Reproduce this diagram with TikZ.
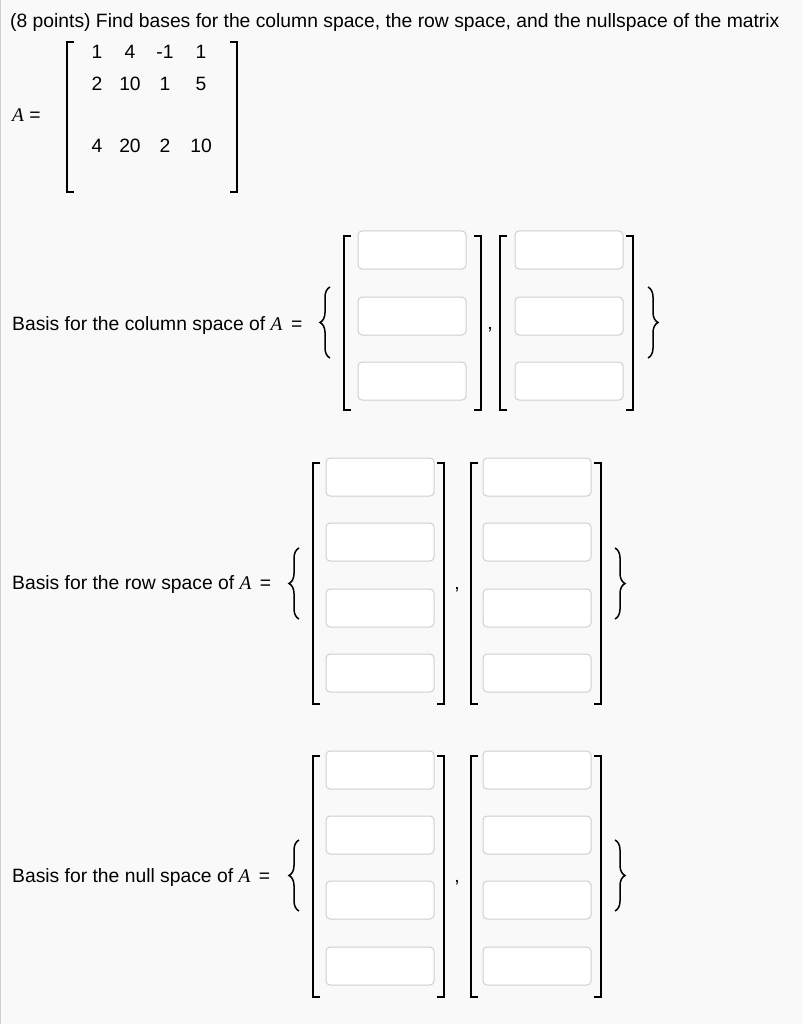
\documentclass[tikz,border=0pt]{standalone}
\usepackage{fontspec}
\setmainfont{Liberation Sans}
\newfontfamily\myserif{Liberation Serif}
\usetikzlibrary{decorations.pathreplacing}
\definecolor{bg}{HTML}{F9F9F9}
\definecolor{boxc}{HTML}{CFCFCF}
\tikzset{
 txt/.style={inner sep=0pt,font=\fontsize{19.3}{23}\selectfont},
 ent/.style={inner sep=0pt,font=\fontsize{19.3}{23}\selectfont},
 inbox/.style={draw=boxc,fill=white,rounded corners=4pt,line width=1pt,minimum width=108pt,minimum height=38pt,inner sep=0pt},
 brk/.style={line width=1.4pt},
 brc/.style={decorate,decoration={brace,amplitude=10pt},line width=1.5pt}
}
\newcommand{\lbrk}[3]{\draw[brk] (#1+7,#2) -- (#1,#2) -- (#1,#3) -- (#1+7,#3);}
\newcommand{\rbrk}[3]{\draw[brk] (#1-7,#2) -- (#1,#2) -- (#1,#3) -- (#1-7,#3);}
\begin{document}
\begin{tikzpicture}[x=1pt,y=-1pt]
\fill[bg] (0,0) rectangle (803,1024);
\useasboundingbox (0,0) rectangle (803,1024);
\draw[boxc,line width=1pt] (0.5,0) -- (0.5,1024);
\node[txt,anchor=base west] (title) at (10,28) {(8 points) Find bases for the column space, the row space, and the nullspace of the matrix};
% matrix
\node[txt,anchor=base west] (aeq) at (12,122) {{\myserif\itshape A} =};
\lbrk{67}{42}{192}
\rbrk{237}{42}{192}
\foreach \r/\y/\a/\b/\c/\d in {1/59/1/4/-1/1, 2/91/2/10/1/5, 3/153/4/20/2/10}{
 \node[ent,anchor=base] (m\r a) at (97,\y) {\a};
 \node[ent,anchor=base] (m\r b) at (130,\y) {\b};
 \node[ent,anchor=base] (m\r c) at (165,\y) {\c};
 \node[ent,anchor=base] (m\r d) at (201,\y) {\d};
}
% column space
\node[txt,anchor=base west] (lc) at (12,330) {Basis for the column space of {\myserif\itshape A} \,=};
\draw[brc] (330,358) -- (330,287);
\lbrk{344}{236}{410}
\rbrk{481}{236}{410}
\node[txt] (cc) at (490,330) {,};
\lbrk{500}{236}{410}
\rbrk{633}{236}{410}
\draw[brc] (648,287) -- (648,358);
\foreach \i/\y in {1/250,2/316,3/381}{
 \node[inbox] (c1\i) at (412,\y) {};
 \node[inbox] (c2\i) at (569,\y) {};
}
% row space
\node[txt,anchor=base west] (lr) at (12,589) {Basis for the row space of {\myserif\itshape A} \,=};
\draw[brc] (299,619) -- (299,548);
\lbrk{313}{463}{704}
\rbrk{444}{463}{704}
\node[txt] (rc) at (457,590) {,};
\lbrk{471}{463}{704}
\rbrk{601}{463}{704}
\draw[brc] (615,548) -- (615,619);
\foreach \i/\y in {1/477,2/542,3/608,4/673}{
 \node[inbox] (r1\i) at (380,\y) {};
 \node[inbox] (r2\i) at (537,\y) {};
}
% null space
\node[txt,anchor=base west] (ln) at (12,882) {Basis for the null space of {\myserif\itshape A} \,=};
\draw[brc] (299,911) -- (299,840);
\lbrk{313}{756}{997}
\rbrk{444}{756}{997}
\node[txt] (nc) at (457,883) {,};
\lbrk{471}{756}{997}
\rbrk{601}{756}{997}
\draw[brc] (615,840) -- (615,911);
\foreach \i/\y in {1/770,2/835,3/900,4/966}{
 \node[inbox] (n1\i) at (380,\y) {};
 \node[inbox] (n2\i) at (537,\y) {};
}
\end{tikzpicture}
\end{document}
